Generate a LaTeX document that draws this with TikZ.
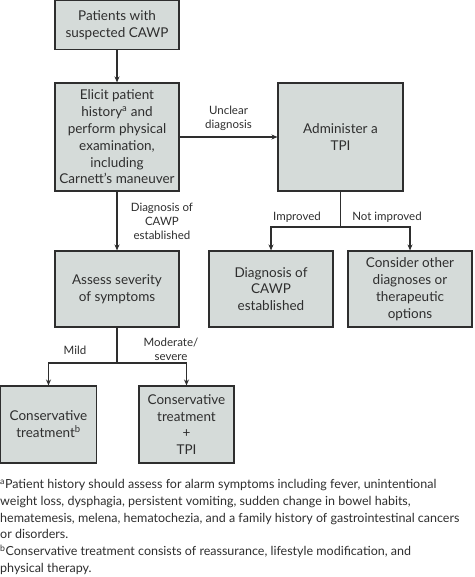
\documentclass[tikz,border=0pt]{standalone}
\usepackage{fontspec}
\setmainfont{Lato}
\usetikzlibrary{arrows.meta, positioning, calc}
\definecolor{boxfill}{HTML}{D5DBD9}
\definecolor{inkgray}{HTML}{2E2E2E}

\begin{document}
\begin{tikzpicture}[
  x=1pt, y=-1pt,
  >={Stealth[length=6pt, width=5pt]},
  flowbox/.style={draw=inkgray, fill=boxfill, line width=1.1pt, align=center,
    font=\fontsize{13.5}{16.8}\selectfont, text=inkgray, inner sep=2pt},
  branchlbl/.style={font=\fontsize{11.5}{14}\selectfont, text=inkgray, align=center},
  link/.style={inkgray, line width=1.1pt},
]

\useasboundingbox (0,0) rectangle (474,577);

% ========================================
% Left column
% ========================================
\node[flowbox, minimum width=124pt, minimum height=49pt] (patients) at (117,25)
  {Patients with\\suspected CAWP};

\node[flowbox, minimum width=124pt, minimum height=108pt] (history) at (117,137)
  {Elicit patient\\history\textsuperscript{a} and\\perform physical\\examination,\\including\\Carnett's maneuver};

\node[flowbox, minimum width=124pt, minimum height=76pt] (severity) at (117,289)
  {Assess severity\\of symptoms};

\draw[link, ->] (patients) -- (history);
\draw[link, ->] (history) -- (severity)
  node[branchlbl, midway, right=10pt] (dxlbl) {Diagnosis of\\CAWP\\established};

% ========================================
% Right column: TPI
% ========================================
\node[flowbox, minimum width=125pt, minimum height=108pt] (tpi) at (340.5,137)
  {Administer a\\TPI};

\node[flowbox, minimum width=124pt, minimum height=76pt] (cawpdx) at (271,289)
  {Diagnosis of\\CAWP\\established};
\node[flowbox, minimum width=124pt, minimum height=76pt] (other) at (410,289)
  {Consider other\\diagnoses or\\therapeutic\\options};

\draw[link, ->] (history) -- (tpi)
  node[branchlbl, midway, above=3pt] (unclearlbl) {Unclear\\diagnosis};

\coordinate (tpisplit) at (340.5,227);
\draw[link] (tpi) -- (tpisplit);
\draw[link, ->] (tpisplit) -| (cawpdx);
\draw[link, ->] (tpisplit) -| (other);
\node[branchlbl] (improvedlbl) at (297,217) {Improved};
\node[branchlbl] (notimprovedlbl) at (387,217) {Not improved};

% ========================================
% Bottom: treatment
% ========================================
\node[flowbox, minimum width=96pt, minimum height=77pt] (cons) at (48.5,424.5)
  {Conservative\\treatment\textsuperscript{b}};
\node[flowbox, minimum width=95pt, minimum height=77pt] (constpi) at (186.5,424.5)
  {Conservative\\treatment\\+\\TPI};

\coordinate (sevsplit) at (117,363);
\draw[link] (severity) -- (sevsplit);
\draw[link, ->] (sevsplit) -| (cons);
\draw[link, ->] (sevsplit) -| (constpi);
\node[branchlbl] (mildlbl) at (75,350) {Mild};
\node[branchlbl] (moderatelbl) at (171,349) {Moderate/\\severe};

% ========================================
% Footnotes
% ========================================
\node[anchor=north west, inner sep=0pt, align=left, text=inkgray,
  font=\fontsize{12.5}{16.8}\selectfont] (notes) at (0,479)
  {\textsuperscript{a}Patient history should assess for alarm symptoms including fever, unintentional\\
   weight loss, dysphagia, persistent vomiting, sudden change in bowel habits,\\
   hematemesis, melena, hematochezia, and a family history of gastrointestinal cancers\\
   or disorders.\\
   \textsuperscript{b}Conservative treatment consists of reassurance, lifestyle modification, and\\
   physical therapy.};

\end{tikzpicture}
\end{document}
